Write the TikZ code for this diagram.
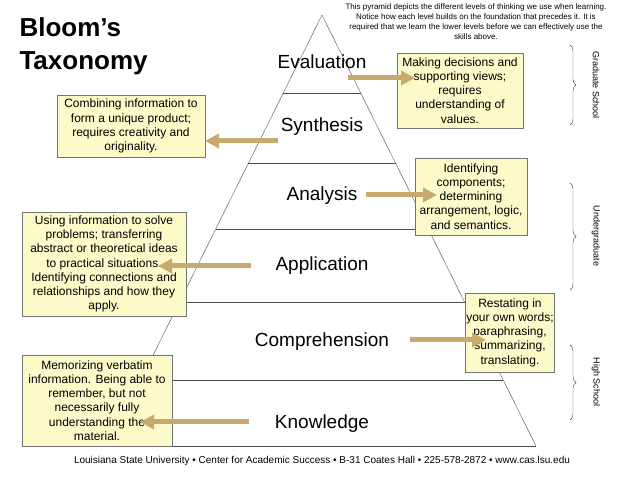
\documentclass[tikz,border=0pt]{standalone}
\usepackage{fontspec}
\setmainfont{Liberation Sans}
\usetikzlibrary{arrows.meta,decorations.pathreplacing}
\begin{document}
\begin{tikzpicture}[x=1pt,y=-1pt,
  level/.style={font=\fontsize{19}{21}\selectfont},
  desc/.style={draw=black!55,fill={rgb,255:red,252;green,250;blue,200},align=center,font=\fontsize{12}{14.2}\selectfont,inner sep=1pt},
  fat/.style={line width=5pt,color={rgb,255:red,200;green,170;blue,110},-{Triangle[length=14pt,width=14pt]}},
  brc/.style={decorate,decoration={brace,amplitude=6pt},draw=black!70,thin},
  side/.style={rotate=-90,font=\fontsize{9}{10}\selectfont}]
\useasboundingbox (0,0) rectangle (638,478);
% pyramid
\coordinate (apex) at (322,15);
\coordinate (bl) at (108,446);
\coordinate (br) at (536,446);
\draw[black!70] (bl) -- (apex) -- (br);
\foreach \y in {93,163,229,302,380,446}{
  \pgfmathsetmacro{\dx}{0.497*(\y-15)}
  \draw[black!70] (322-\dx,\y) -- (322+\dx,\y);
}
% level labels
\node[level] (ev) at (322,62) {Evaluation};
\node[level] (sy) at (322,127) {Synthesis};
\node[level] (an) at (322,196) {Analysis};
\node[level] (ap) at (322,266) {Application};
\node[level] (co) at (322,342) {Comprehension};
\node[level] (kn) at (322,424) {Knowledge};
% description boxes
\node[desc,minimum width=126pt,minimum height=75pt] (dev) at (460,90.5) {Making decisions and\\supporting views;\\requires\\understanding of\\values.};
\node[desc,minimum width=148pt,minimum height=62pt] (dsy) at (131,126) {Combining information to\\form a unique product;\\requires creativity and\\originality.};
\node[desc,minimum width=112pt,minimum height=77pt] (dan) at (471,196.5) {Identifying\\components;\\determining\\arrangement, logic,\\and semantics.};
\node[desc,minimum width=164pt,minimum height=104pt] (dap) at (104,264) {Using information to solve\\problems; transferring\\abstract or theoretical ideas\\to practical situations.\\Identifying connections and\\relationships and how they\\apply.};
\node[desc,minimum width=86pt,minimum height=79pt] (dco) at (510,332.5) {Restating in\\your own words;\\paraphrasing,\\summarizing,\\translating.};
\node[desc,minimum width=150pt,minimum height=91pt] (dkn) at (97,400.5) {Memorizing verbatim\\information. Being able to\\remember, but not\\necessarily fully\\understanding the\\material.};
% arrows
\coordinate (aev1) at (348,78); \coordinate (aev2) at (415,78);
\coordinate (asy1) at (278,141); \coordinate (asy2) at (205,141);
\coordinate (aan1) at (366,195); \coordinate (aan2) at (437,195);
\coordinate (aap1) at (251,266); \coordinate (aap2) at (158,266);
\coordinate (aco1) at (410,340); \coordinate (aco2) at (486,340);
\coordinate (akn1) at (249,422); \coordinate (akn2) at (140,422);
\foreach \a in {ev,sy,an,ap,co,kn}{\draw[fat] (a\a1) -- (a\a2);}
% braces
\draw[brc] (570,45) -- (570,125) coordinate[midway] (b1);
\draw[brc] (570,183) -- (570,290) coordinate[midway] (b2);
\draw[brc] (570,345) -- (570,420) coordinate[midway] (b3);
\node[side] (gs) at (596,85) {Graduate School};
\node[side] (ug) at (596,236) {Undergraduate};
\node[side] (hs) at (596,382) {High School};
% title and notes
\node[anchor=north west,align=left,font=\fontsize{26}{33}\selectfont\bfseries] (title) at (16,14) {Bloom’s\\Taxonomy};
\node[align=center,font=\fontsize{8}{10}\selectfont] (note) at (476,22) {This pyramid depicts the different levels of thinking we use when learning.\\Notice how  each level builds on the foundation that precedes it.  It is\\required that we learn the lower levels before we can effectively use the\\skills above.};
\node[font=\fontsize{10}{11}\selectfont] (foot) at (322,461) {Louisiana State University • Center for Academic Success • B-31 Coates Hall • 225-578-2872 • www.cas.lsu.edu};
\end{tikzpicture}
\end{document}
